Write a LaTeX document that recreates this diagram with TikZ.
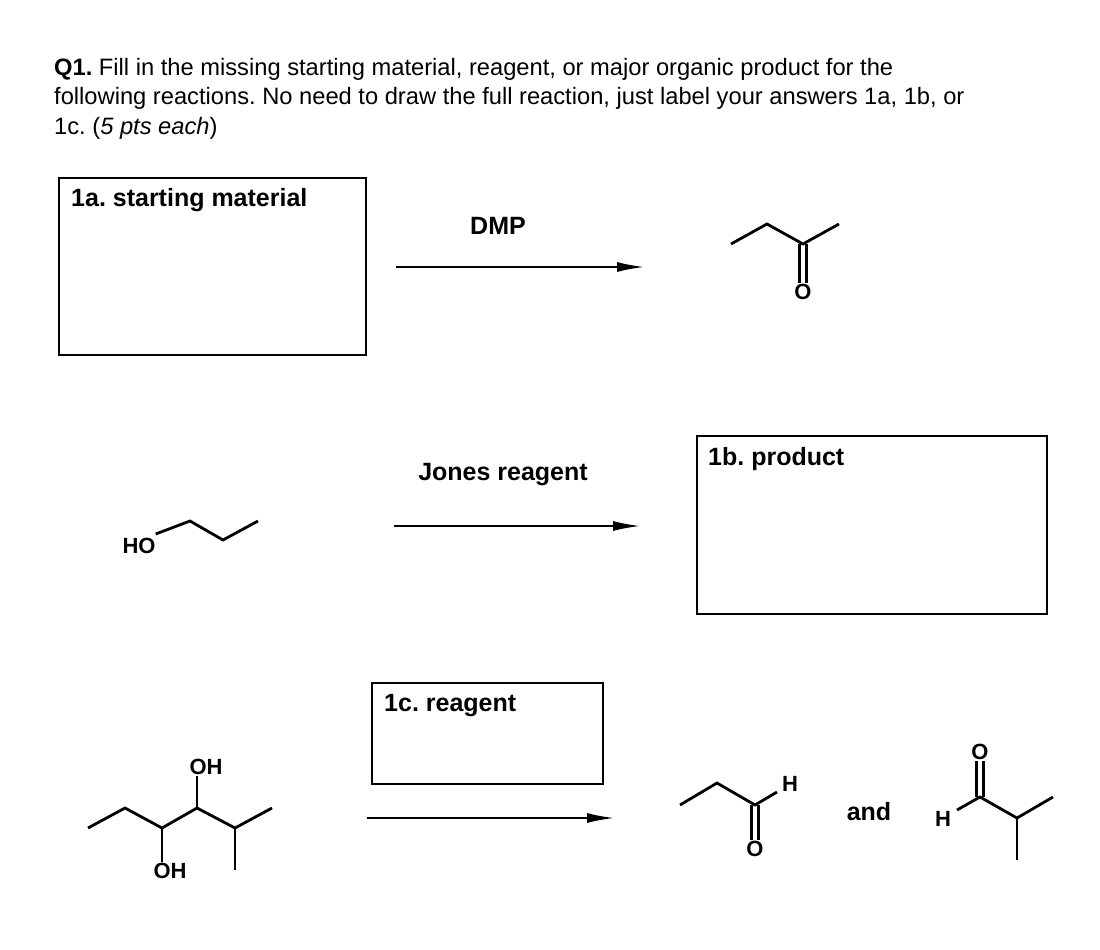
\documentclass[tikz,border=0pt]{standalone}
\usepackage{fontspec}
\setmainfont{Liberation Sans}
\usetikzlibrary{arrows.meta}
\begin{document}
\frenchspacing
\begin{tikzpicture}[x=1pt,y=-1pt,
  bond/.style={line width=2.8pt},
  box/.style={draw,line width=2.4pt},
  rxn/.style={line width=2.4pt,-{Latex[length=28pt,width=10pt]}},
  lbl/.style={font=\fontsize{25}{28}\selectfont\bfseries,inner sep=0pt},
  atom/.style={font=\fontsize{22}{24}\selectfont\bfseries,inner sep=1pt},
  hdr/.style={font=\fontsize{23.7}{29.5}\selectfont,anchor=north west,align=left,inner sep=0pt}]
\useasboundingbox (0,0) rectangle (1100,950);
\node[hdr] (q) at (54,58) {\textbf{Q1.} Fill in the missing starting material, reagent, or major organic product for the\\following reactions. No need to draw the full reaction, just label your answers 1a, 1b, or\\1c. (\textit{5 pts each})};
% boxes
\draw[box] (59,178) rectangle (366,355);
\node[lbl,anchor=west] (la) at (71,200) {1a. starting material};
\draw[box] (697,436) rectangle (1047,614);
\node[lbl,anchor=west] (lb) at (708,459) {1b. product};
\draw[box] (372,683) rectangle (603,784);
\node[lbl,anchor=west] (lc) at (384,706) {1c. reagent};
% arrows
\coordinate (a1) at (396,267); \coordinate (a2) at (645,267);
\draw[rxn] (a1) -- (a2);
\node[lbl] (dmp) at (498,226) {DMP};
\coordinate (b1) at (394,526); \coordinate (b2) at (641,526);
\draw[rxn] (b1) -- (b2);
\node[lbl] (jr) at (503,475) {Jones reagent};
\coordinate (c1) at (367,818); \coordinate (c2) at (615,818);
\draw[rxn] (c1) -- (c2);
% butanone
\coordinate (k1) at (731,244); \coordinate (k2) at (767,224); \coordinate (k3) at (803,244); \coordinate (k4) at (839,224);
\draw[bond,line join=miter] (k1)--(k2)--(k3)--(k4);
\node[atom] (ko) at (803,292) {O};
\draw[bond] ([xshift=-3.5pt]k3) -- ([xshift=-3.5pt]k3|-ko.north);
\draw[bond] ([xshift=3.5pt]k3) -- ([xshift=3.5pt]k3|-ko.north);
% propanol
\node[atom] (ho) at (139,546) {HO};
\coordinate (p1) at (190,521); \coordinate (p2) at (223,540); \coordinate (p3) at (258,521);
\draw[bond,line join=miter] (ho.north east) ++(-1pt,3pt) -- (p1)--(p2)--(p3);
% diol
\coordinate (d1) at (88,828); \coordinate (d2) at (125,808); \coordinate (d3) at (162,828);
\coordinate (d4) at (197,808); \coordinate (d5) at (235,828); \coordinate (d6) at (272,808); \coordinate (d7) at (235,870);
\draw[bond,line join=miter] (d1)--(d2)--(d3)--(d4)--(d5)--(d6);
\draw[bond] (d5)--(d7);
\node[atom] (oh1) at (206,767) {OH};
\node[atom] (oh2) at (170,871) {OH};
\draw[bond] (d4) -- (d4|-oh1.south);
\draw[bond] (d3) -- (d3|-oh2.north);
% propanal
\coordinate (e1) at (680,805); \coordinate (e2) at (717,783); \coordinate (e3) at (755,805); \coordinate (e4) at (777,792);
\draw[bond,line join=miter] (e1)--(e2)--(e3)--(e4);
\node[atom] (eh) at (790,784) {H};
\node[atom] (eo) at (755,849) {O};
\draw[bond] ([xshift=-3.5pt]e3) -- ([xshift=-3.5pt]e3|-eo.north);
\draw[bond] ([xshift=3.5pt]e3) -- ([xshift=3.5pt]e3|-eo.north);
\node[lbl] (and) at (869,812) {and};
% isobutanal
\coordinate (f1) at (957,810); \coordinate (f2) at (980,797); \coordinate (f3) at (1017,818); \coordinate (f4) at (1053,797); \coordinate (f5) at (1017,860);
\node[atom] (fh) at (943,819) {H};
\node[atom] (fo) at (980,752) {O};
\draw[bond,line join=miter] (f1)--(f2)--(f3)--(f4);
\draw[bond] (f3)--(f5);
\draw[bond] ([xshift=-3.5pt]f2) -- ([xshift=-3.5pt]f2|-fo.south);
\draw[bond] ([xshift=3.5pt]f2) -- ([xshift=3.5pt]f2|-fo.south);
\end{tikzpicture}
\end{document}
